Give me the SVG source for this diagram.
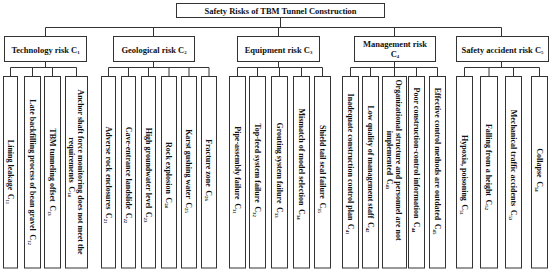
<svg xmlns="http://www.w3.org/2000/svg" width="550" height="271" viewBox="0 0 550 271">
<style>
.box{fill:#fff;stroke:#333;stroke-width:1}
.t{font-family:"Liberation Serif","Times New Roman",serif;font-weight:bold;fill:#111}
.lt{font-size:8px}
.ct{font-size:8.5px}
.sub{font-size:4.8px}
#connectors path{fill:none;stroke:#333;stroke-width:1}
</style>
<rect width="550" height="271" fill="#fff"/>
<g id="connectors">
<path d="M280.5 17.5V27.5M45.5 27.5H501.5M45.5 27.5V36.5M153.5 27.5V36.5M278.5 27.5V36.5M394.5 27.5V36.5M501.5 27.5V36.5"/>
<path d="M45.5 61.5V67.5M10.5 67.5H76.5M10.5 67.5V76.5M32.5 67.5V76.5M52.5 67.5V76.5M76.5 67.5V76.5"/>
<path d="M153.5 61.5V67.5M108.5 67.5H209M108.5 67.5V76.5M128.5 67.5V76.5M148.5 67.5V76.5M169 67.5V76.5M189 67.5V76.5M209 67.5V76.5"/>
<path d="M278.5 61.5V67.5M237.5 67.5H322.5M237.5 67.5V76.5M257.5 67.5V76.5M279.5 67.5V76.5M301.5 67.5V76.5M322.5 67.5V76.5"/>
<path d="M394.5 61.5V67.5M350.5 67.5H437.5M350.5 67.5V76.5M370.5 67.5V76.5M394.5 67.5V76.5M416.5 67.5V76.5M437.5 67.5V76.5"/>
<path d="M501.5 61.5V67.5M464.5 67.5H539.5M464.5 67.5V76.5M489 67.5V76.5M513.5 67.5V76.5M539.5 67.5V76.5"/>
</g>
<g id="root">
<rect class="box" x="176.5" y="3.5" width="208" height="14"/>
<text class="t ct" x="280.5" y="13.5" text-anchor="middle">Safety Risks of TBM Tunnel Construction</text>
</g>
<g id="c1">
<rect class="box" x="4.5" y="36.5" width="82" height="25"/>
<text class="t ct" x="45.5" y="52.5" text-anchor="middle">Technology risk C<tspan class="sub" dy="1.5">1</tspan></text>
</g>
<g id="c2">
<rect class="box" x="113.5" y="36.5" width="81" height="25"/>
<text class="t ct" x="154" y="52.5" text-anchor="middle">Geological risk C<tspan class="sub" dy="1.5">2</tspan></text>
</g>
<g id="c3">
<rect class="box" x="237.5" y="36.5" width="82" height="25"/>
<text class="t ct" x="278.5" y="52.5" text-anchor="middle">Equipment risk C<tspan class="sub" dy="1.5">3</tspan></text>
</g>
<g id="c4">
<rect class="box" x="354.5" y="36.5" width="81" height="25"/>
<text class="t ct" x="395" y="46.5" text-anchor="middle">Management risk</text>
<text class="t ct" x="395" y="56.5" text-anchor="middle">C<tspan class="sub" dy="1.5">4</tspan></text>
</g>
<g id="c5">
<rect class="box" x="456.5" y="36.5" width="92" height="25"/>
<text class="t ct" x="502.5" y="52.5" text-anchor="middle">Safety accident risk C<tspan class="sub" dy="1.5">5</tspan></text>
</g>
<g id="c11">
<rect class="box" x="3.5" y="76.5" width="14" height="191.5"/>
<text class="t lt" transform="translate(10.5,172) rotate(90)" y="2.8" text-anchor="middle">Lining leakage <tspan dx="1.5">C</tspan><tspan class="sub" dy="1.5">11</tspan></text>
</g>
<g id="c12">
<rect class="box" x="24.5" y="76.5" width="16" height="191.5"/>
<text class="t lt" transform="translate(32.5,172) rotate(90)" y="2.8" text-anchor="middle">Late backfilling process of bean gravel <tspan dx="1.5">C</tspan><tspan class="sub" dy="1.5">12</tspan></text>
</g>
<g id="c13">
<rect class="box" x="44.5" y="76.5" width="16" height="191.5"/>
<text class="t lt" transform="translate(52.5,172) rotate(90)" y="2.8" text-anchor="middle">TBM tunneling offset <tspan dx="1.5">C</tspan><tspan class="sub" dy="1.5">13</tspan></text>
</g>
<g id="c14">
<rect class="box" x="65.5" y="76.5" width="22" height="191.5"/>
<g transform="translate(76.5,172) rotate(90)">
<text class="t lt" y="-1.7" text-anchor="middle">Anchor shaft force monitoring does not meet the</text>
<text class="t lt" x="-5" y="7.3" text-anchor="middle">requirements <tspan dx="1.5">C</tspan><tspan class="sub" dy="1.5">14</tspan></text>
</g>
</g>
<g id="c21">
<rect class="box" x="101.5" y="76.5" width="14" height="191.5"/>
<text class="t lt" transform="translate(108.5,175) rotate(90)" y="2.8" text-anchor="middle">Adverse rock enclosures <tspan dx="1.5">C</tspan><tspan class="sub" dy="1.5">21</tspan></text>
</g>
<g id="c22">
<rect class="box" x="121.5" y="76.5" width="14" height="191.5"/>
<text class="t lt" transform="translate(128.5,175) rotate(90)" y="2.8" text-anchor="middle">Cave-entrance landslide <tspan dx="1.5">C</tspan><tspan class="sub" dy="1.5">22</tspan></text>
</g>
<g id="c23">
<rect class="box" x="141.5" y="76.5" width="14" height="191.5"/>
<text class="t lt" transform="translate(148.5,175) rotate(90)" y="2.8" text-anchor="middle">High groundwater level <tspan dx="1.5">C</tspan><tspan class="sub" dy="1.5">23</tspan></text>
</g>
<g id="c24">
<rect class="box" x="161.5" y="76.5" width="15" height="191.5"/>
<text class="t lt" transform="translate(169,175) rotate(90)" y="2.8" text-anchor="middle">Rock explosion <tspan dx="1.5">C</tspan><tspan class="sub" dy="1.5">24</tspan></text>
</g>
<g id="c25">
<rect class="box" x="181.5" y="76.5" width="15" height="191.5"/>
<text class="t lt" transform="translate(189,171) rotate(90)" y="2.8" text-anchor="middle">Karst gushing water <tspan dx="1.5">C</tspan><tspan class="sub" dy="1.5">25</tspan></text>
</g>
<g id="c26">
<rect class="box" x="201.5" y="76.5" width="15" height="191.5"/>
<text class="t lt" transform="translate(209,170) rotate(90)" y="2.8" text-anchor="middle">Fracture zone <tspan dx="1.5">C</tspan><tspan class="sub" dy="1.5">26</tspan></text>
</g>
<g id="c31">
<rect class="box" x="229.5" y="76.5" width="16" height="191.5"/>
<text class="t lt" transform="translate(237.5,170) rotate(90)" y="2.8" text-anchor="middle">Pipe-assembly failure <tspan dx="1.5">C</tspan><tspan class="sub" dy="1.5">31</tspan></text>
</g>
<g id="c32">
<rect class="box" x="249.5" y="76.5" width="16" height="191.5"/>
<text class="t lt" transform="translate(257.5,170) rotate(90)" y="2.8" text-anchor="middle">Top-feed system failure <tspan dx="1.5">C</tspan><tspan class="sub" dy="1.5">32</tspan></text>
</g>
<g id="c33">
<rect class="box" x="271.5" y="76.5" width="16" height="191.5"/>
<text class="t lt" transform="translate(279.5,170) rotate(90)" y="2.8" text-anchor="middle">Grouting system failure <tspan dx="1.5">C</tspan><tspan class="sub" dy="1.5">33</tspan></text>
</g>
<g id="c34">
<rect class="box" x="293.5" y="76.5" width="16" height="191.5"/>
<text class="t lt" transform="translate(301.5,164) rotate(90)" y="2.8" text-anchor="middle">Mismatch of model selection <tspan dx="1.5">C</tspan><tspan class="sub" dy="1.5">34</tspan></text>
</g>
<g id="c35">
<rect class="box" x="314.5" y="76.5" width="16" height="191.5"/>
<text class="t lt" transform="translate(322.5,169) rotate(90)" y="2.8" text-anchor="middle">Shield tail seal failure <tspan dx="1.5">C</tspan><tspan class="sub" dy="1.5">35</tspan></text>
</g>
<g id="c41">
<rect class="box" x="342.5" y="76.5" width="16" height="191.5"/>
<text class="t lt" transform="translate(350.5,164) rotate(90)" y="2.8" text-anchor="middle">Inadequate construction control plan <tspan dx="1.5">C</tspan><tspan class="sub" dy="1.5">41</tspan></text>
</g>
<g id="c42">
<rect class="box" x="362.5" y="76.5" width="16" height="191.5"/>
<text class="t lt" transform="translate(370.5,169) rotate(90)" y="2.8" text-anchor="middle">Low quality of management staff <tspan dx="1.5">C</tspan><tspan class="sub" dy="1.5">42</tspan></text>
</g>
<g id="c43">
<rect class="box" x="382.5" y="76.5" width="24" height="191.5"/>
<g transform="translate(394.5,160) rotate(90)">
<text class="t lt" y="-1.7" text-anchor="middle">Organizational structure and personnel are not</text>
<text class="t lt" y="7.3" text-anchor="middle">implemented <tspan dx="1.5">C</tspan><tspan class="sub" dy="1.5">43</tspan></text>
</g>
</g>
<g id="c44">
<rect class="box" x="408.5" y="76.5" width="16" height="191.5"/>
<text class="t lt" transform="translate(416.5,160) rotate(90)" y="2.8" text-anchor="middle">Poor construction-control information <tspan dx="1.5">C</tspan><tspan class="sub" dy="1.5">44</tspan></text>
</g>
<g id="c45">
<rect class="box" x="429.5" y="76.5" width="16" height="191.5"/>
<text class="t lt" transform="translate(437.5,161) rotate(90)" y="2.8" text-anchor="middle">Effective control methods are outdated <tspan dx="1.5">C</tspan><tspan class="sub" dy="1.5">45</tspan></text>
</g>
<g id="c51">
<rect class="box" x="456.5" y="76.5" width="16" height="191.5"/>
<text class="t lt" transform="translate(464.5,175) rotate(90)" y="2.8" text-anchor="middle">Hypoxia, poisoning <tspan dx="1.5">C</tspan><tspan class="sub" dy="1.5">51</tspan></text>
</g>
<g id="c52">
<rect class="box" x="480.5" y="76.5" width="17" height="191.5"/>
<text class="t lt" transform="translate(489,167) rotate(90)" y="2.8" text-anchor="middle">Falling from a height <tspan dx="1.5">C</tspan><tspan class="sub" dy="1.5">52</tspan></text>
</g>
<g id="c53">
<rect class="box" x="505.5" y="76.5" width="16" height="191.5"/>
<text class="t lt" transform="translate(513.5,165) rotate(90)" y="2.8" text-anchor="middle">Mechanical traffic accidents <tspan dx="1.5">C</tspan><tspan class="sub" dy="1.5">53</tspan></text>
</g>
<g id="c54">
<rect class="box" x="531.5" y="76.5" width="16" height="191.5"/>
<text class="t lt" transform="translate(539.5,170) rotate(90)" y="2.8" text-anchor="middle">Collapse <tspan dx="1.5">C</tspan><tspan class="sub" dy="1.5">54</tspan></text>
</g>
</svg>
